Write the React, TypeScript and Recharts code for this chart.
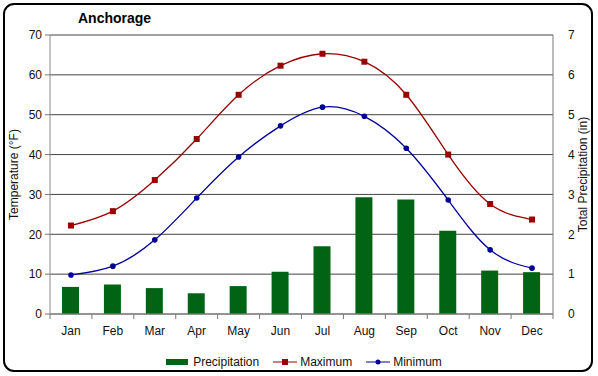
import { ComposedChart, Bar, Line, XAxis, YAxis, CartesianGrid, Legend } from 'recharts';

const months = ['Jan', 'Feb', 'Mar', 'Apr', 'May', 'Jun', 'Jul', 'Aug', 'Sep', 'Oct', 'Nov', 'Dec'];
const maximum = [22.2, 25.8, 33.6, 43.9, 55.0, 62.3, 65.3, 63.3, 55.0, 40.0, 27.6, 23.7];
const minimum = [9.8, 12.0, 18.6, 29.1, 39.4, 47.2, 51.9, 49.6, 41.6, 28.6, 16.1, 11.5];
const precipitation = [0.68, 0.74, 0.65, 0.52, 0.70, 1.06, 1.70, 2.93, 2.87, 2.09, 1.09, 1.05];
const tempTicks = [0, 10, 20, 30, 40, 50, 60, 70];
const precipTicks = [0, 1, 2, 3, 4, 5, 6, 7];

const data = months.map((month, i) => ({
  month,
  Maximum: maximum[i],
  Minimum: minimum[i],
  Precipitation: precipitation[i],
}));

const FONT = 'Arial, "Liberation Sans", sans-serif';
const RED = '#990000';
const BLUE = '#000099';
const GREEN = '#006414';
const PLOT_W = 503;

function MonthTick(props: any) {
  const { x, y, payload, index } = props;
  const half = payload && payload.offset ? payload.offset : PLOT_W / months.length / 2;
  return (
    <g>
      <line x1={x - half} x2={x - half} y1={y} y2={y + 5} stroke="#777" />
      {index === months.length - 1 && <line x1={x + half} x2={x + half} y1={y} y2={y + 5} stroke="#777" />}
      <text x={x} y={y + 21} textAnchor="middle" fontSize={12} fill="#111" fontFamily={FONT}>
        {payload.value}
      </text>
    </g>
  );
}

function SquareDot(props: any) {
  const { cx, cy } = props;
  if (cx == null || cy == null) return null;
  return <rect x={cx - 3} y={cy - 3} width={6} height={6} fill={RED} />;
}

function LegendContent() {
  const item = { display: 'flex', alignItems: 'center', marginRight: 14 } as const;
  return (
    <div
      style={{
        display: 'flex',
        justifyContent: 'center',
        fontFamily: FONT,
        fontSize: 12,
        color: '#111',
        paddingLeft: 10,
        marginTop: 5,
      }}
    >
      <div style={item}>
        <svg width={23} height={8} style={{ marginRight: 4 }}>
          <rect x={0} y={1} width={22} height={6} fill={GREEN} />
        </svg>
        Precipitation
      </div>
      <div style={item}>
        <svg width={24} height={8} style={{ marginRight: 3 }}>
          <line x1={0} x2={24} y1={4} y2={4} stroke={RED} />
          <rect x={9} y={1} width={6} height={6} fill={RED} />
        </svg>
        Maximum
      </div>
      <div style={{ ...item, marginRight: 0 }}>
        <svg width={24} height={8} style={{ marginRight: 3 }}>
          <line x1={0} x2={24} y1={4} y2={4} stroke={BLUE} />
          <circle cx={12} cy={4} r={2.5} fill={BLUE} />
        </svg>
        Minimum
      </div>
    </div>
  );
}

export default function App() {
  return (
    <div style={{ position: 'absolute', left: 0, top: 0, width: 598, height: 376, background: '#fff', fontFamily: FONT }}>
      <div
        style={{
          position: 'absolute',
          left: 3,
          top: 3,
          width: 590,
          height: 369,
          border: '2px solid #000',
          borderRadius: 11,
          boxSizing: 'border-box',
        }}
      />
      <div style={{ position: 'absolute', left: 78, top: 10, fontSize: 14, fontWeight: 'bold', color: '#000' }}>
        Anchorage
      </div>
      <ComposedChart
        width={598}
        height={376}
        data={data}
        margin={{ top: 35, right: 0, bottom: 6, left: 0 }}
        style={{ position: 'absolute', left: 0, top: 0 }}
      >
        <CartesianGrid yAxisId="temp" vertical={false} stroke="#444" />
        <XAxis
          dataKey="month"
          height={36}
          tickLine={false}
          tickSize={0}
          tickMargin={0}
          axisLine={{ stroke: '#888' }}
          tick={<MonthTick />}
          interval={0}
        />
        <YAxis
          yAxisId="temp"
          width={50}
          domain={[0, 70]}
          ticks={tempTicks}
          tickSize={5}
          tickMargin={3}
          tickLine={{ stroke: '#777' }}
          axisLine={{ stroke: '#888' }}
          tick={{ fontSize: 12, fill: '#111', fontFamily: FONT }}
          label={{
            value: 'Temperature (°F)',
            angle: -90,
            position: 'insideLeft',
            offset: 14,
            style: { textAnchor: 'middle', fontSize: 12, fill: '#111', fontFamily: FONT },
          }}
        />
        <YAxis
          yAxisId="precip"
          orientation="right"
          width={45}
          domain={[0, 7]}
          ticks={precipTicks}
          tickLine={false}
          tickMargin={9}
          axisLine={{ stroke: '#777' }}
          tick={{ fontSize: 12, fill: '#111', fontFamily: FONT }}
          label={{
            value: 'Total Precipitation (in)',
            angle: -90,
            position: 'insideRight',
            offset: 15,
            style: { textAnchor: 'middle', fontSize: 12, fill: '#111', fontFamily: FONT },
          }}
        />
        <Legend verticalAlign="bottom" height={20} content={<LegendContent />} />
        <Bar yAxisId="precip" dataKey="Precipitation" fill={GREEN} barSize={17} isAnimationActive={false} />
        <Line
          yAxisId="temp"
          type="natural"
          dataKey="Maximum"
          stroke={RED}
          strokeWidth={1.3}
          dot={<SquareDot />}
          activeDot={false}
          isAnimationActive={false}
        />
        <Line
          yAxisId="temp"
          type="natural"
          dataKey="Minimum"
          stroke={BLUE}
          strokeWidth={1.3}
          dot={{ r: 2.8, fill: BLUE, stroke: BLUE, strokeWidth: 0 }}
          activeDot={false}
          isAnimationActive={false}
        />
      </ComposedChart>
    </div>
  );
}
